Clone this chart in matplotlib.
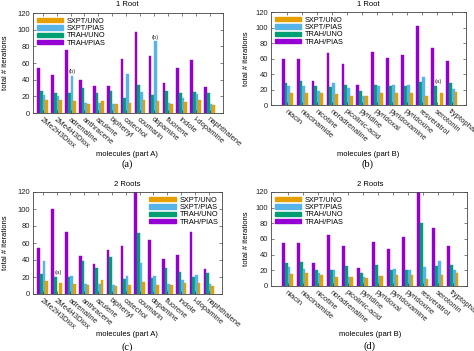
import numpy as np
import matplotlib
matplotlib.use("Agg")
import matplotlib.pyplot as plt
from matplotlib.patches import Patch

plt.rcParams['font.family'] = ['Liberation Sans', 'DejaVu Sans']

W, H = 474, 351

mol_a = ["2Me2H3Diox", "2Me4H3Diox", "adrenaline", "anthracene", "azulene", "biphenyl",
         "catechol", "coumarin", "dopamine", "fluorene", "indole", "l-dopamine", "naphthalene"]
mol_b = ["niacin", "niacinamide", "nicotine", "noradrenaline", "picolinic-acid", "pyridine",
         "pyridoxal", "pyridoxamine", "pyridoxine", "resveratrol", "serotonin", "tryptophan"]

series = ["SXPT/UNO", "SXPT/PIAS", "TRAH/UNO", "TRAH/PIAS"]
colors = {"SXPT/UNO": "#e69f00", "SXPT/PIAS": "#56b4e9",
          "TRAH/UNO": "#009e73", "TRAH/PIAS": "#9400d3"}

# panel (a): 1 Root, part A
a_trah_pias = [54, 46, 76, 40, 32, 32, 65, 97, 68, 36, 54, 64, 31]
a_trah_uno  = [27, 24, 24, 30, 24, 26, 18, 34, 22, 27, 24, 25, 24]
a_sxpt_pias = [22, 21, 45, 12, 12, 11, 47, 25, 86, 12, 18, 23, 11]
a_sxpt_uno  = [16, 16, 15, 11, 15, 11, 12, 16, 14, 11, 13, 16, 10]

# panel (b): 1 Root, part B
b_trah_pias = [60, 59, 31, 67, 53, 26, 69, 61, 65, 102, 74, 57]
b_trah_uno  = [29, 31, 24, 23, 26, 18, 26, 25, 25, 30, 25, 28]
b_sxpt_pias = [25, 25, 18, 29, 22, 11, 25, 26, 26, 36, np.nan, 21]
b_sxpt_uno  = [15, 16, 15, 14, 12, 11, 16, 16, 15, 12, 16, 17]

# panel (c): 2 Roots, part A
c_trah_pias = [54, 100, 73, 45, 35, 52, 56, 120, 63, 41, 46, 73, 30]
c_trah_uno  = [24, 20, 20, 39, 31, 44, 18, 72, 19, 31, 26, 20, 25]
c_sxpt_pias = [39, np.nan, 21, 12, 12, 11, 21, 36, 21, 12, 17, 22, 12]
c_sxpt_uno  = [15, 13, 12, 11, 17, 10, 11, 14, 11, 11, 13, 13, 10]

# panel (d): 2 Roots, part B
d_trah_pias = [55, 55, 29, 65, 51, 23, 56, 47, 63, 120, 74, 51]
d_trah_uno  = [30, 31, 20, 20, 26, 17, 27, 21, 21, 81, 25, 27]
d_sxpt_pias = [24, 22, 17, 21, 12, 11, 13, 22, 21, 24, 32, 20]
d_sxpt_uno  = [15, 16, 14, 12, 12, 10, 13, 14, 14, 9, 14, 16]

yticks = [0, 20, 40, 60, 80, 100, 120]


def px_axes(fig, l, r, t, b):
    return fig.add_axes([l / W, 1 - b / H, (r - l) / W, (b - t) / H])


fig = plt.figure(figsize=(W / 100, H / 100), dpi=100)

panels = [
    dict(box=(33, 223, 13, 113), mols=mol_a, vals=(a_trah_pias, a_trah_uno, a_sxpt_pias, a_sxpt_uno),
         xlim=(-0.70, 12.97), title="1 Root", xlabel="molecules (part A)", cap="(a)",
         leg="upper left", notes=[(2, 45, "(b)"), (8, 86, "(b)")], ylx=6, capy=164, xly=155, cx=127),
    dict(box=(271, 466, 12, 105), mols=mol_b, vals=(b_trah_pias, b_trah_uno, b_sxpt_pias, b_sxpt_uno),
         xlim=(-1.1, 11.95), title="1 Root", xlabel="molecules (part B)", cap="(b)",
         leg="upper left", notes=[(10, 25, "(a)")], ylx=247, capy=164, xly=154, cx=368),
    dict(box=(33, 222, 192, 294), mols=mol_a, vals=(c_trah_pias, c_trah_uno, c_sxpt_pias, c_sxpt_uno),
         xlim=(-0.70, 12.95), title="2 Roots", xlabel="molecules (part A)", cap="(c)",
         leg="upper right", notes=[(1, 20, "(a)")], ylx=6, capy=347, xly=335, cx=127),
    dict(box=(271, 467, 192, 286), mols=mol_b, vals=(d_trah_pias, d_trah_uno, d_sxpt_pias, d_sxpt_uno),
         xlim=(-1.1, 11.95), title="2 Roots", xlabel="molecules (part B)", cap="(d)",
         leg="upper left", notes=[], ylx=247, capy=346, xly=335, cx=370),
]

wbar = 0.19
order = ["TRAH/PIAS", "TRAH/UNO", "SXPT/PIAS", "SXPT/UNO"]

for p in panels:
    l, r, t, b = p["box"]
    ax = px_axes(fig, l, r, t, b)
    x = np.arange(len(p["mols"]))
    for k, (name, v) in enumerate(zip(order, p["vals"])):
        ax.bar(x + (k - 1.5) * wbar, np.array(v, dtype=float), width=wbar,
               color=colors[name], edgecolor=colors[name], linewidth=0.3)
    for (i, yv, txt) in p["notes"]:
        ax.text(i + 0.5 * wbar, yv + 2, txt, ha="center", va="bottom", fontsize=4.3, color="#333333")
    ax.set_xlim(*p["xlim"])
    ax.set_ylim(0, 120)
    ax.set_yticks(yticks)
    ax.set_yticklabels([str(v) for v in yticks], fontsize=5.5)
    ax.set_xticks(x)
    ax.set_xticklabels(p["mols"], rotation=-40, ha="left", va="top",
                       rotation_mode="anchor", fontsize=5.5)
    ax.tick_params(direction="in", top=True, right=True, length=2, width=0.4, pad=2, colors="#222222")
    for s in ax.spines.values():
        s.set_linewidth(0.6)
        s.set_color("#444444")
    handles = [Patch(facecolor=colors[s], edgecolor=colors[s]) for s in series]
    if p["leg"] == "upper left":
        leg = ax.legend(handles, series, loc="upper left", bbox_to_anchor=(0.0, 0.99),
                        frameon=False, fontsize=5.3, handlelength=3.6, handleheight=0.55,
                        labelspacing=0.05, handletextpad=0.5, borderaxespad=0.3, borderpad=0.2)
    else:
        leg = ax.legend(handles, series, loc="upper right", bbox_to_anchor=(1.0, 0.99),
                        frameon=False, fontsize=5.3, handlelength=3.6, handleheight=0.55,
                        labelspacing=0.05, handletextpad=0.5, borderaxespad=0.3, borderpad=0.2)
    # titles, labels
    fig.text(p["cx"] / W, 1 - (t - 8) / H, p["title"], ha="center", va="center", fontsize=5.5)
    fig.text(p["cx"] / W, 1 - p["xly"] / H, p["xlabel"], ha="center", va="center", fontsize=5.5)
    fig.text(p["cx"] / W, 1 - p["capy"] / H, p["cap"], ha="center", va="center", fontsize=7.5,
             family=["Liberation Serif", "DejaVu Serif"])
    fig.text(p["ylx"] / W, 1 - ((t + b) / 2) / H, "total # iterations", rotation=90,
             ha="center", va="center", fontsize=5.5)

fig.savefig("out.png", dpi=100)
